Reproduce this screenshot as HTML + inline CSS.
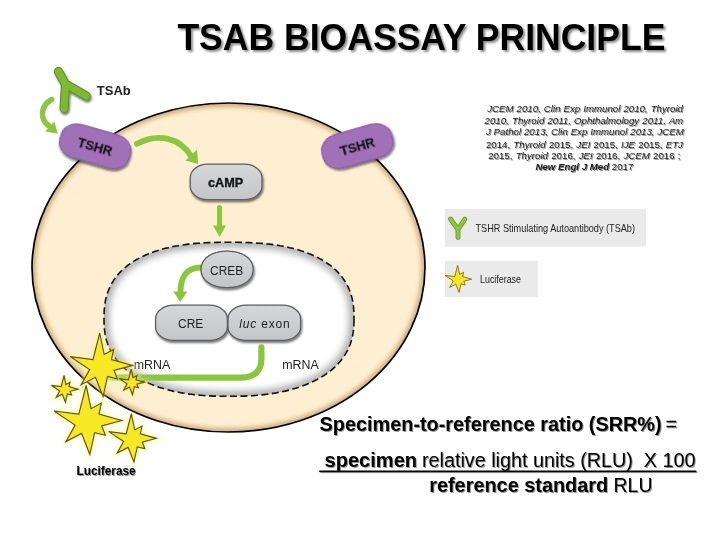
<!DOCTYPE html>
<html><head><meta charset="utf-8"><title>TSAB Bioassay Principle</title>
<style>
html,body{margin:0;padding:0;background:#fff;}
body{width:714px;height:535px;overflow:hidden;position:relative;font-family:"Liberation Sans",Arial,sans-serif;}
svg{position:absolute;left:0;top:0;}
text{font-family:"Liberation Sans",Arial,sans-serif;}
</style></head><body>
<svg width="714" height="535" viewBox="0 0 714 535">
<defs>
  <radialGradient id="cellg" cx="50%" cy="50%" r="50%">
    <stop offset="0" stop-color="#FEEFD2"/><stop offset="0.9" stop-color="#FDEBCB"/><stop offset="1" stop-color="#E9D5B0"/>
  </radialGradient>
  <radialGradient id="nucg" cx="50%" cy="50%" r="50%">
    <stop offset="0" stop-color="#fff"/><stop offset="0.82" stop-color="#fff"/><stop offset="1" stop-color="#cfcfcf"/>
  </radialGradient>
  <filter id="sh" x="-20%" y="-20%" width="150%" height="150%"><feGaussianBlur in="SourceAlpha" stdDeviation="1.2"/><feOffset dx="1" dy="1.5"/><feComponentTransfer><feFuncA type="linear" slope="0.55"/></feComponentTransfer><feMerge><feMergeNode/><feMergeNode in="SourceGraphic"/></feMerge></filter>
  <filter id="tsh" x="-5%" y="-20%" width="110%" height="150%"><feGaussianBlur in="SourceAlpha" stdDeviation="0.8"/><feOffset dx="1.5" dy="1.5"/><feComponentTransfer><feFuncA type="linear" slope="0.6"/></feComponentTransfer><feMerge><feMergeNode/><feMergeNode in="SourceGraphic"/></feMerge></filter>
  <filter id="glow" x="-30%" y="-30%" width="160%" height="160%"><feGaussianBlur in="SourceGraphic" stdDeviation="3" result="b"/><feMerge><feMergeNode in="b"/><feMergeNode in="SourceGraphic"/></feMerge></filter>
  <linearGradient id="fade" gradientUnits="userSpaceOnUse" x1="100" x2="170" y1="0" y2="0"><stop offset="0" stop-color="#8CC63F" stop-opacity="0"/><stop offset="0.25" stop-color="#8CC63F"/><stop offset="1" stop-color="#8CC63F"/></linearGradient>
  <path id="star" d="M-1.8,-32.9 L2.7,-11.5 L12.2,-16.6 L10,-6.5 L31,-0.6 L12.5,4.4 L15.9,12.9 L6,10.5 L1.6,30.5 L-6,11.2 L-20.3,18.7 L-11.9,3.6 L-31.3,-9.4 L-8.5,-6.5 Z" vector-effect="non-scaling-stroke"/>
  <clipPath id="nucclip"><path d="M354.0,319.3 L354.0,321.8 L353.9,323.7 L353.9,325.6 L353.7,327.3 L353.6,329.0 L353.4,330.6 L353.2,332.1 L353.0,333.7 L352.7,335.2 L352.4,336.7 L352.0,338.1 L351.7,339.5 L351.3,340.9 L350.8,342.3 L350.4,343.7 L349.9,345.0 L349.3,346.3 L348.8,347.6 L348.2,348.9 L347.6,350.2 L346.9,351.5 L346.2,352.7 L345.5,353.9 L344.7,355.1 L344.0,356.3 L343.1,357.5 L342.3,358.6 L341.4,359.8 L340.5,360.9 L339.6,362.0 L338.6,363.1 L337.6,364.2 L336.6,365.2 L335.6,366.3 L334.5,367.3 L333.4,368.3 L332.2,369.3 L331.1,370.3 L329.9,371.2 L328.6,372.2 L327.4,373.1 L326.1,374.0 L324.8,374.9 L323.4,375.8 L322.1,376.6 L320.7,377.5 L319.3,378.3 L317.8,379.1 L316.3,379.9 L314.8,380.7 L313.3,381.4 L311.7,382.2 L310.1,382.9 L308.5,383.6 L306.9,384.3 L305.2,384.9 L303.5,385.6 L301.8,386.2 L300.1,386.8 L298.3,387.4 L296.5,388.0 L294.7,388.6 L292.8,389.1 L291.0,389.6 L289.1,390.1 L287.1,390.6 L285.2,391.1 L283.2,391.5 L281.2,391.9 L279.2,392.3 L277.1,392.7 L275.0,393.1 L272.9,393.4 L270.7,393.8 L268.6,394.1 L266.4,394.3 L264.1,394.6 L261.8,394.9 L259.5,395.1 L257.2,395.3 L254.8,395.5 L252.3,395.7 L249.8,395.8 L247.3,395.9 L244.7,396.1 L242.0,396.1 L239.2,396.2 L236.2,396.3 L233.0,396.3 L229.0,396.3 L225.0,396.3 L221.8,396.3 L218.8,396.2 L216.0,396.1 L213.3,396.1 L210.7,395.9 L208.2,395.8 L205.7,395.7 L203.2,395.5 L200.8,395.3 L198.5,395.1 L196.2,394.9 L193.9,394.6 L191.6,394.3 L189.4,394.1 L187.3,393.8 L185.1,393.4 L183.0,393.1 L180.9,392.7 L178.8,392.3 L176.8,391.9 L174.8,391.5 L172.8,391.1 L170.9,390.6 L168.9,390.1 L167.0,389.6 L165.2,389.1 L163.3,388.6 L161.5,388.0 L159.7,387.4 L157.9,386.8 L156.2,386.2 L154.5,385.6 L152.8,384.9 L151.1,384.3 L149.5,383.6 L147.9,382.9 L146.3,382.2 L144.7,381.4 L143.2,380.7 L141.7,379.9 L140.2,379.1 L138.7,378.3 L137.3,377.5 L135.9,376.6 L134.6,375.8 L133.2,374.9 L131.9,374.0 L130.6,373.1 L129.4,372.2 L128.1,371.2 L126.9,370.3 L125.8,369.3 L124.6,368.3 L123.5,367.3 L122.4,366.3 L121.4,365.2 L120.4,364.2 L119.4,363.1 L118.4,362.0 L117.5,360.9 L116.6,359.8 L115.7,358.6 L114.9,357.5 L114.0,356.3 L113.3,355.1 L112.5,353.9 L111.8,352.7 L111.1,351.5 L110.4,350.2 L109.8,348.9 L109.2,347.6 L108.7,346.3 L108.1,345.0 L107.6,343.7 L107.2,342.3 L106.7,340.9 L106.3,339.5 L106.0,338.1 L105.6,336.7 L105.3,335.2 L105.0,333.7 L104.8,332.1 L104.6,330.6 L104.4,329.0 L104.3,327.3 L104.1,325.6 L104.1,323.7 L104.0,321.8 L104.0,319.3 L104.0,316.3 L104.1,314.0 L104.1,312.0 L104.2,310.2 L104.4,308.4 L104.5,306.7 L104.7,305.0 L105.0,303.4 L105.2,301.8 L105.5,300.3 L105.8,298.8 L106.2,297.4 L106.6,296.0 L107.0,294.6 L107.4,293.2 L107.9,291.8 L108.4,290.5 L108.9,289.2 L109.5,287.9 L110.1,286.7 L110.7,285.4 L111.3,284.2 L112.0,283.0 L112.7,281.8 L113.5,280.6 L114.2,279.5 L115.0,278.4 L115.8,277.2 L116.7,276.2 L117.6,275.1 L118.5,274.0 L119.4,273.0 L120.4,271.9 L121.4,270.9 L122.4,269.9 L123.5,269.0 L124.6,268.0 L125.7,267.1 L126.8,266.1 L128.0,265.2 L129.2,264.3 L130.4,263.5 L131.7,262.6 L133.0,261.8 L134.3,260.9 L135.6,260.1 L137.0,259.3 L138.4,258.6 L139.8,257.8 L141.2,257.1 L142.7,256.4 L144.2,255.7 L145.7,255.0 L147.3,254.3 L148.9,253.7 L150.5,253.0 L152.1,252.4 L153.8,251.8 L155.5,251.2 L157.2,250.7 L159.0,250.1 L160.7,249.6 L162.5,249.1 L164.4,248.6 L166.2,248.1 L168.1,247.7 L170.1,247.2 L172.0,246.8 L174.0,246.4 L176.0,246.0 L178.1,245.7 L180.1,245.3 L182.3,245.0 L184.4,244.7 L186.6,244.4 L188.8,244.1 L191.1,243.9 L193.4,243.6 L195.8,243.4 L198.2,243.2 L200.7,243.1 L203.2,242.9 L205.8,242.8 L208.5,242.6 L211.3,242.5 L214.1,242.5 L217.2,242.4 L220.5,242.3 L224.1,242.3 L229.0,242.3 L233.9,242.3 L237.5,242.3 L240.8,242.4 L243.9,242.5 L246.7,242.5 L249.5,242.6 L252.2,242.8 L254.8,242.9 L257.3,243.1 L259.8,243.2 L262.2,243.4 L264.6,243.6 L266.9,243.9 L269.2,244.1 L271.4,244.4 L273.6,244.7 L275.7,245.0 L277.9,245.3 L279.9,245.7 L282.0,246.0 L284.0,246.4 L286.0,246.8 L287.9,247.2 L289.9,247.7 L291.8,248.1 L293.6,248.6 L295.5,249.1 L297.3,249.6 L299.0,250.1 L300.8,250.7 L302.5,251.2 L304.2,251.8 L305.9,252.4 L307.5,253.0 L309.1,253.7 L310.7,254.3 L312.3,255.0 L313.8,255.7 L315.3,256.4 L316.8,257.1 L318.2,257.8 L319.6,258.6 L321.0,259.3 L322.4,260.1 L323.7,260.9 L325.0,261.8 L326.3,262.6 L327.6,263.5 L328.8,264.3 L330.0,265.2 L331.2,266.1 L332.3,267.1 L333.4,268.0 L334.5,269.0 L335.6,269.9 L336.6,270.9 L337.6,271.9 L338.6,273.0 L339.5,274.0 L340.4,275.1 L341.3,276.2 L342.2,277.2 L343.0,278.4 L343.8,279.5 L344.5,280.6 L345.3,281.8 L346.0,283.0 L346.7,284.2 L347.3,285.4 L347.9,286.7 L348.5,287.9 L349.1,289.2 L349.6,290.5 L350.1,291.8 L350.6,293.2 L351.0,294.6 L351.4,296.0 L351.8,297.4 L352.2,298.8 L352.5,300.3 L352.8,301.8 L353.0,303.4 L353.3,305.0 L353.5,306.7 L353.6,308.4 L353.8,310.2 L353.9,312.0 L353.9,314.0 L354.0,316.3 Z"/></clipPath>
  <filter id="blur4" x="-10%" y="-10%" width="120%" height="120%"><feGaussianBlur stdDeviation="3.5"/></filter>
  <linearGradient id="boxg" x1="0" x2="0" y1="0" y2="1"><stop offset="0" stop-color="#D6D7D9"/><stop offset="1" stop-color="#C4C5C7"/></linearGradient>
  <filter id="blur3" x="-30%" y="-30%" width="160%" height="160%"><feGaussianBlur stdDeviation="2.5"/></filter>
  <filter id="csh" x="-5%" y="-20%" width="110%" height="150%"><feGaussianBlur in="SourceAlpha" stdDeviation="0.5"/><feOffset dx="0.8" dy="0.8"/><feComponentTransfer><feFuncA type="linear" slope="0.45"/></feComponentTransfer><feMerge><feMergeNode/><feMergeNode in="SourceGraphic"/></feMerge></filter>
  <filter id="fsh" x="-5%" y="-20%" width="110%" height="150%"><feGaussianBlur in="SourceAlpha" stdDeviation="0.6"/><feOffset dx="1.3" dy="1.3"/><feComponentTransfer><feFuncA type="linear" slope="0.42"/></feComponentTransfer><feMerge><feMergeNode/><feMergeNode in="SourceGraphic"/></feMerge></filter>
  <filter id="tish" x="-5%" y="-20%" width="110%" height="150%"><feGaussianBlur in="SourceAlpha" stdDeviation="0.9"/><feOffset dx="1.6" dy="1.6"/><feComponentTransfer><feFuncA type="linear" slope="0.45"/></feComponentTransfer><feMerge><feMergeNode/><feMergeNode in="SourceGraphic"/></feMerge></filter>
  <clipPath id="cellclip"><ellipse cx="228.5" cy="267.5" rx="196.5" ry="164.5"/></clipPath>
  <filter id="lsh" x="-5%" y="-20%" width="110%" height="150%"><feGaussianBlur in="SourceAlpha" stdDeviation="0.6"/><feOffset dx="1" dy="1"/><feComponentTransfer><feFuncA type="linear" slope="0.45"/></feComponentTransfer><feMerge><feMergeNode/><feMergeNode in="SourceGraphic"/></feMerge></filter>
  <filter id="noop" x="-10%" y="-30%" width="120%" height="160%"><feOffset dx="0" dy="0"/></filter>
</defs>

<!-- cell -->
<ellipse cx="228.5" cy="267.5" rx="196.5" ry="164.5" fill="#FFEFD2"/>
<g clip-path="url(#cellclip)"><ellipse cx="228.5" cy="267.5" rx="196.5" ry="164.5" fill="none" stroke="#c9a877" stroke-width="7" filter="url(#blur3)"/></g>
<ellipse cx="228.5" cy="267.5" rx="196.5" ry="164.5" fill="none" stroke="#000" stroke-width="1.7"/>
<!-- nucleus -->
<path d="M354.0,319.3 L354.0,321.8 L353.9,323.7 L353.9,325.6 L353.7,327.3 L353.6,329.0 L353.4,330.6 L353.2,332.1 L353.0,333.7 L352.7,335.2 L352.4,336.7 L352.0,338.1 L351.7,339.5 L351.3,340.9 L350.8,342.3 L350.4,343.7 L349.9,345.0 L349.3,346.3 L348.8,347.6 L348.2,348.9 L347.6,350.2 L346.9,351.5 L346.2,352.7 L345.5,353.9 L344.7,355.1 L344.0,356.3 L343.1,357.5 L342.3,358.6 L341.4,359.8 L340.5,360.9 L339.6,362.0 L338.6,363.1 L337.6,364.2 L336.6,365.2 L335.6,366.3 L334.5,367.3 L333.4,368.3 L332.2,369.3 L331.1,370.3 L329.9,371.2 L328.6,372.2 L327.4,373.1 L326.1,374.0 L324.8,374.9 L323.4,375.8 L322.1,376.6 L320.7,377.5 L319.3,378.3 L317.8,379.1 L316.3,379.9 L314.8,380.7 L313.3,381.4 L311.7,382.2 L310.1,382.9 L308.5,383.6 L306.9,384.3 L305.2,384.9 L303.5,385.6 L301.8,386.2 L300.1,386.8 L298.3,387.4 L296.5,388.0 L294.7,388.6 L292.8,389.1 L291.0,389.6 L289.1,390.1 L287.1,390.6 L285.2,391.1 L283.2,391.5 L281.2,391.9 L279.2,392.3 L277.1,392.7 L275.0,393.1 L272.9,393.4 L270.7,393.8 L268.6,394.1 L266.4,394.3 L264.1,394.6 L261.8,394.9 L259.5,395.1 L257.2,395.3 L254.8,395.5 L252.3,395.7 L249.8,395.8 L247.3,395.9 L244.7,396.1 L242.0,396.1 L239.2,396.2 L236.2,396.3 L233.0,396.3 L229.0,396.3 L225.0,396.3 L221.8,396.3 L218.8,396.2 L216.0,396.1 L213.3,396.1 L210.7,395.9 L208.2,395.8 L205.7,395.7 L203.2,395.5 L200.8,395.3 L198.5,395.1 L196.2,394.9 L193.9,394.6 L191.6,394.3 L189.4,394.1 L187.3,393.8 L185.1,393.4 L183.0,393.1 L180.9,392.7 L178.8,392.3 L176.8,391.9 L174.8,391.5 L172.8,391.1 L170.9,390.6 L168.9,390.1 L167.0,389.6 L165.2,389.1 L163.3,388.6 L161.5,388.0 L159.7,387.4 L157.9,386.8 L156.2,386.2 L154.5,385.6 L152.8,384.9 L151.1,384.3 L149.5,383.6 L147.9,382.9 L146.3,382.2 L144.7,381.4 L143.2,380.7 L141.7,379.9 L140.2,379.1 L138.7,378.3 L137.3,377.5 L135.9,376.6 L134.6,375.8 L133.2,374.9 L131.9,374.0 L130.6,373.1 L129.4,372.2 L128.1,371.2 L126.9,370.3 L125.8,369.3 L124.6,368.3 L123.5,367.3 L122.4,366.3 L121.4,365.2 L120.4,364.2 L119.4,363.1 L118.4,362.0 L117.5,360.9 L116.6,359.8 L115.7,358.6 L114.9,357.5 L114.0,356.3 L113.3,355.1 L112.5,353.9 L111.8,352.7 L111.1,351.5 L110.4,350.2 L109.8,348.9 L109.2,347.6 L108.7,346.3 L108.1,345.0 L107.6,343.7 L107.2,342.3 L106.7,340.9 L106.3,339.5 L106.0,338.1 L105.6,336.7 L105.3,335.2 L105.0,333.7 L104.8,332.1 L104.6,330.6 L104.4,329.0 L104.3,327.3 L104.1,325.6 L104.1,323.7 L104.0,321.8 L104.0,319.3 L104.0,316.3 L104.1,314.0 L104.1,312.0 L104.2,310.2 L104.4,308.4 L104.5,306.7 L104.7,305.0 L105.0,303.4 L105.2,301.8 L105.5,300.3 L105.8,298.8 L106.2,297.4 L106.6,296.0 L107.0,294.6 L107.4,293.2 L107.9,291.8 L108.4,290.5 L108.9,289.2 L109.5,287.9 L110.1,286.7 L110.7,285.4 L111.3,284.2 L112.0,283.0 L112.7,281.8 L113.5,280.6 L114.2,279.5 L115.0,278.4 L115.8,277.2 L116.7,276.2 L117.6,275.1 L118.5,274.0 L119.4,273.0 L120.4,271.9 L121.4,270.9 L122.4,269.9 L123.5,269.0 L124.6,268.0 L125.7,267.1 L126.8,266.1 L128.0,265.2 L129.2,264.3 L130.4,263.5 L131.7,262.6 L133.0,261.8 L134.3,260.9 L135.6,260.1 L137.0,259.3 L138.4,258.6 L139.8,257.8 L141.2,257.1 L142.7,256.4 L144.2,255.7 L145.7,255.0 L147.3,254.3 L148.9,253.7 L150.5,253.0 L152.1,252.4 L153.8,251.8 L155.5,251.2 L157.2,250.7 L159.0,250.1 L160.7,249.6 L162.5,249.1 L164.4,248.6 L166.2,248.1 L168.1,247.7 L170.1,247.2 L172.0,246.8 L174.0,246.4 L176.0,246.0 L178.1,245.7 L180.1,245.3 L182.3,245.0 L184.4,244.7 L186.6,244.4 L188.8,244.1 L191.1,243.9 L193.4,243.6 L195.8,243.4 L198.2,243.2 L200.7,243.1 L203.2,242.9 L205.8,242.8 L208.5,242.6 L211.3,242.5 L214.1,242.5 L217.2,242.4 L220.5,242.3 L224.1,242.3 L229.0,242.3 L233.9,242.3 L237.5,242.3 L240.8,242.4 L243.9,242.5 L246.7,242.5 L249.5,242.6 L252.2,242.8 L254.8,242.9 L257.3,243.1 L259.8,243.2 L262.2,243.4 L264.6,243.6 L266.9,243.9 L269.2,244.1 L271.4,244.4 L273.6,244.7 L275.7,245.0 L277.9,245.3 L279.9,245.7 L282.0,246.0 L284.0,246.4 L286.0,246.8 L287.9,247.2 L289.9,247.7 L291.8,248.1 L293.6,248.6 L295.5,249.1 L297.3,249.6 L299.0,250.1 L300.8,250.7 L302.5,251.2 L304.2,251.8 L305.9,252.4 L307.5,253.0 L309.1,253.7 L310.7,254.3 L312.3,255.0 L313.8,255.7 L315.3,256.4 L316.8,257.1 L318.2,257.8 L319.6,258.6 L321.0,259.3 L322.4,260.1 L323.7,260.9 L325.0,261.8 L326.3,262.6 L327.6,263.5 L328.8,264.3 L330.0,265.2 L331.2,266.1 L332.3,267.1 L333.4,268.0 L334.5,269.0 L335.6,269.9 L336.6,270.9 L337.6,271.9 L338.6,273.0 L339.5,274.0 L340.4,275.1 L341.3,276.2 L342.2,277.2 L343.0,278.4 L343.8,279.5 L344.5,280.6 L345.3,281.8 L346.0,283.0 L346.7,284.2 L347.3,285.4 L347.9,286.7 L348.5,287.9 L349.1,289.2 L349.6,290.5 L350.1,291.8 L350.6,293.2 L351.0,294.6 L351.4,296.0 L351.8,297.4 L352.2,298.8 L352.5,300.3 L352.8,301.8 L353.0,303.4 L353.3,305.0 L353.5,306.7 L353.6,308.4 L353.8,310.2 L353.9,312.0 L353.9,314.0 L354.0,316.3 Z" fill="#fff"/>
<g clip-path="url(#nucclip)"><path d="M354.0,319.3 L354.0,321.8 L353.9,323.7 L353.9,325.6 L353.7,327.3 L353.6,329.0 L353.4,330.6 L353.2,332.1 L353.0,333.7 L352.7,335.2 L352.4,336.7 L352.0,338.1 L351.7,339.5 L351.3,340.9 L350.8,342.3 L350.4,343.7 L349.9,345.0 L349.3,346.3 L348.8,347.6 L348.2,348.9 L347.6,350.2 L346.9,351.5 L346.2,352.7 L345.5,353.9 L344.7,355.1 L344.0,356.3 L343.1,357.5 L342.3,358.6 L341.4,359.8 L340.5,360.9 L339.6,362.0 L338.6,363.1 L337.6,364.2 L336.6,365.2 L335.6,366.3 L334.5,367.3 L333.4,368.3 L332.2,369.3 L331.1,370.3 L329.9,371.2 L328.6,372.2 L327.4,373.1 L326.1,374.0 L324.8,374.9 L323.4,375.8 L322.1,376.6 L320.7,377.5 L319.3,378.3 L317.8,379.1 L316.3,379.9 L314.8,380.7 L313.3,381.4 L311.7,382.2 L310.1,382.9 L308.5,383.6 L306.9,384.3 L305.2,384.9 L303.5,385.6 L301.8,386.2 L300.1,386.8 L298.3,387.4 L296.5,388.0 L294.7,388.6 L292.8,389.1 L291.0,389.6 L289.1,390.1 L287.1,390.6 L285.2,391.1 L283.2,391.5 L281.2,391.9 L279.2,392.3 L277.1,392.7 L275.0,393.1 L272.9,393.4 L270.7,393.8 L268.6,394.1 L266.4,394.3 L264.1,394.6 L261.8,394.9 L259.5,395.1 L257.2,395.3 L254.8,395.5 L252.3,395.7 L249.8,395.8 L247.3,395.9 L244.7,396.1 L242.0,396.1 L239.2,396.2 L236.2,396.3 L233.0,396.3 L229.0,396.3 L225.0,396.3 L221.8,396.3 L218.8,396.2 L216.0,396.1 L213.3,396.1 L210.7,395.9 L208.2,395.8 L205.7,395.7 L203.2,395.5 L200.8,395.3 L198.5,395.1 L196.2,394.9 L193.9,394.6 L191.6,394.3 L189.4,394.1 L187.3,393.8 L185.1,393.4 L183.0,393.1 L180.9,392.7 L178.8,392.3 L176.8,391.9 L174.8,391.5 L172.8,391.1 L170.9,390.6 L168.9,390.1 L167.0,389.6 L165.2,389.1 L163.3,388.6 L161.5,388.0 L159.7,387.4 L157.9,386.8 L156.2,386.2 L154.5,385.6 L152.8,384.9 L151.1,384.3 L149.5,383.6 L147.9,382.9 L146.3,382.2 L144.7,381.4 L143.2,380.7 L141.7,379.9 L140.2,379.1 L138.7,378.3 L137.3,377.5 L135.9,376.6 L134.6,375.8 L133.2,374.9 L131.9,374.0 L130.6,373.1 L129.4,372.2 L128.1,371.2 L126.9,370.3 L125.8,369.3 L124.6,368.3 L123.5,367.3 L122.4,366.3 L121.4,365.2 L120.4,364.2 L119.4,363.1 L118.4,362.0 L117.5,360.9 L116.6,359.8 L115.7,358.6 L114.9,357.5 L114.0,356.3 L113.3,355.1 L112.5,353.9 L111.8,352.7 L111.1,351.5 L110.4,350.2 L109.8,348.9 L109.2,347.6 L108.7,346.3 L108.1,345.0 L107.6,343.7 L107.2,342.3 L106.7,340.9 L106.3,339.5 L106.0,338.1 L105.6,336.7 L105.3,335.2 L105.0,333.7 L104.8,332.1 L104.6,330.6 L104.4,329.0 L104.3,327.3 L104.1,325.6 L104.1,323.7 L104.0,321.8 L104.0,319.3 L104.0,316.3 L104.1,314.0 L104.1,312.0 L104.2,310.2 L104.4,308.4 L104.5,306.7 L104.7,305.0 L105.0,303.4 L105.2,301.8 L105.5,300.3 L105.8,298.8 L106.2,297.4 L106.6,296.0 L107.0,294.6 L107.4,293.2 L107.9,291.8 L108.4,290.5 L108.9,289.2 L109.5,287.9 L110.1,286.7 L110.7,285.4 L111.3,284.2 L112.0,283.0 L112.7,281.8 L113.5,280.6 L114.2,279.5 L115.0,278.4 L115.8,277.2 L116.7,276.2 L117.6,275.1 L118.5,274.0 L119.4,273.0 L120.4,271.9 L121.4,270.9 L122.4,269.9 L123.5,269.0 L124.6,268.0 L125.7,267.1 L126.8,266.1 L128.0,265.2 L129.2,264.3 L130.4,263.5 L131.7,262.6 L133.0,261.8 L134.3,260.9 L135.6,260.1 L137.0,259.3 L138.4,258.6 L139.8,257.8 L141.2,257.1 L142.7,256.4 L144.2,255.7 L145.7,255.0 L147.3,254.3 L148.9,253.7 L150.5,253.0 L152.1,252.4 L153.8,251.8 L155.5,251.2 L157.2,250.7 L159.0,250.1 L160.7,249.6 L162.5,249.1 L164.4,248.6 L166.2,248.1 L168.1,247.7 L170.1,247.2 L172.0,246.8 L174.0,246.4 L176.0,246.0 L178.1,245.7 L180.1,245.3 L182.3,245.0 L184.4,244.7 L186.6,244.4 L188.8,244.1 L191.1,243.9 L193.4,243.6 L195.8,243.4 L198.2,243.2 L200.7,243.1 L203.2,242.9 L205.8,242.8 L208.5,242.6 L211.3,242.5 L214.1,242.5 L217.2,242.4 L220.5,242.3 L224.1,242.3 L229.0,242.3 L233.9,242.3 L237.5,242.3 L240.8,242.4 L243.9,242.5 L246.7,242.5 L249.5,242.6 L252.2,242.8 L254.8,242.9 L257.3,243.1 L259.8,243.2 L262.2,243.4 L264.6,243.6 L266.9,243.9 L269.2,244.1 L271.4,244.4 L273.6,244.7 L275.7,245.0 L277.9,245.3 L279.9,245.7 L282.0,246.0 L284.0,246.4 L286.0,246.8 L287.9,247.2 L289.9,247.7 L291.8,248.1 L293.6,248.6 L295.5,249.1 L297.3,249.6 L299.0,250.1 L300.8,250.7 L302.5,251.2 L304.2,251.8 L305.9,252.4 L307.5,253.0 L309.1,253.7 L310.7,254.3 L312.3,255.0 L313.8,255.7 L315.3,256.4 L316.8,257.1 L318.2,257.8 L319.6,258.6 L321.0,259.3 L322.4,260.1 L323.7,260.9 L325.0,261.8 L326.3,262.6 L327.6,263.5 L328.8,264.3 L330.0,265.2 L331.2,266.1 L332.3,267.1 L333.4,268.0 L334.5,269.0 L335.6,269.9 L336.6,270.9 L337.6,271.9 L338.6,273.0 L339.5,274.0 L340.4,275.1 L341.3,276.2 L342.2,277.2 L343.0,278.4 L343.8,279.5 L344.5,280.6 L345.3,281.8 L346.0,283.0 L346.7,284.2 L347.3,285.4 L347.9,286.7 L348.5,287.9 L349.1,289.2 L349.6,290.5 L350.1,291.8 L350.6,293.2 L351.0,294.6 L351.4,296.0 L351.8,297.4 L352.2,298.8 L352.5,300.3 L352.8,301.8 L353.0,303.4 L353.3,305.0 L353.5,306.7 L353.6,308.4 L353.8,310.2 L353.9,312.0 L353.9,314.0 L354.0,316.3 Z" fill="none" stroke="#adadad" stroke-width="10" filter="url(#blur4)"/></g>
<path d="M354.0,319.3 L354.0,321.8 L353.9,323.7 L353.9,325.6 L353.7,327.3 L353.6,329.0 L353.4,330.6 L353.2,332.1 L353.0,333.7 L352.7,335.2 L352.4,336.7 L352.0,338.1 L351.7,339.5 L351.3,340.9 L350.8,342.3 L350.4,343.7 L349.9,345.0 L349.3,346.3 L348.8,347.6 L348.2,348.9 L347.6,350.2 L346.9,351.5 L346.2,352.7 L345.5,353.9 L344.7,355.1 L344.0,356.3 L343.1,357.5 L342.3,358.6 L341.4,359.8 L340.5,360.9 L339.6,362.0 L338.6,363.1 L337.6,364.2 L336.6,365.2 L335.6,366.3 L334.5,367.3 L333.4,368.3 L332.2,369.3 L331.1,370.3 L329.9,371.2 L328.6,372.2 L327.4,373.1 L326.1,374.0 L324.8,374.9 L323.4,375.8 L322.1,376.6 L320.7,377.5 L319.3,378.3 L317.8,379.1 L316.3,379.9 L314.8,380.7 L313.3,381.4 L311.7,382.2 L310.1,382.9 L308.5,383.6 L306.9,384.3 L305.2,384.9 L303.5,385.6 L301.8,386.2 L300.1,386.8 L298.3,387.4 L296.5,388.0 L294.7,388.6 L292.8,389.1 L291.0,389.6 L289.1,390.1 L287.1,390.6 L285.2,391.1 L283.2,391.5 L281.2,391.9 L279.2,392.3 L277.1,392.7 L275.0,393.1 L272.9,393.4 L270.7,393.8 L268.6,394.1 L266.4,394.3 L264.1,394.6 L261.8,394.9 L259.5,395.1 L257.2,395.3 L254.8,395.5 L252.3,395.7 L249.8,395.8 L247.3,395.9 L244.7,396.1 L242.0,396.1 L239.2,396.2 L236.2,396.3 L233.0,396.3 L229.0,396.3 L225.0,396.3 L221.8,396.3 L218.8,396.2 L216.0,396.1 L213.3,396.1 L210.7,395.9 L208.2,395.8 L205.7,395.7 L203.2,395.5 L200.8,395.3 L198.5,395.1 L196.2,394.9 L193.9,394.6 L191.6,394.3 L189.4,394.1 L187.3,393.8 L185.1,393.4 L183.0,393.1 L180.9,392.7 L178.8,392.3 L176.8,391.9 L174.8,391.5 L172.8,391.1 L170.9,390.6 L168.9,390.1 L167.0,389.6 L165.2,389.1 L163.3,388.6 L161.5,388.0 L159.7,387.4 L157.9,386.8 L156.2,386.2 L154.5,385.6 L152.8,384.9 L151.1,384.3 L149.5,383.6 L147.9,382.9 L146.3,382.2 L144.7,381.4 L143.2,380.7 L141.7,379.9 L140.2,379.1 L138.7,378.3 L137.3,377.5 L135.9,376.6 L134.6,375.8 L133.2,374.9 L131.9,374.0 L130.6,373.1 L129.4,372.2 L128.1,371.2 L126.9,370.3 L125.8,369.3 L124.6,368.3 L123.5,367.3 L122.4,366.3 L121.4,365.2 L120.4,364.2 L119.4,363.1 L118.4,362.0 L117.5,360.9 L116.6,359.8 L115.7,358.6 L114.9,357.5 L114.0,356.3 L113.3,355.1 L112.5,353.9 L111.8,352.7 L111.1,351.5 L110.4,350.2 L109.8,348.9 L109.2,347.6 L108.7,346.3 L108.1,345.0 L107.6,343.7 L107.2,342.3 L106.7,340.9 L106.3,339.5 L106.0,338.1 L105.6,336.7 L105.3,335.2 L105.0,333.7 L104.8,332.1 L104.6,330.6 L104.4,329.0 L104.3,327.3 L104.1,325.6 L104.1,323.7 L104.0,321.8 L104.0,319.3 L104.0,316.3 L104.1,314.0 L104.1,312.0 L104.2,310.2 L104.4,308.4 L104.5,306.7 L104.7,305.0 L105.0,303.4 L105.2,301.8 L105.5,300.3 L105.8,298.8 L106.2,297.4 L106.6,296.0 L107.0,294.6 L107.4,293.2 L107.9,291.8 L108.4,290.5 L108.9,289.2 L109.5,287.9 L110.1,286.7 L110.7,285.4 L111.3,284.2 L112.0,283.0 L112.7,281.8 L113.5,280.6 L114.2,279.5 L115.0,278.4 L115.8,277.2 L116.7,276.2 L117.6,275.1 L118.5,274.0 L119.4,273.0 L120.4,271.9 L121.4,270.9 L122.4,269.9 L123.5,269.0 L124.6,268.0 L125.7,267.1 L126.8,266.1 L128.0,265.2 L129.2,264.3 L130.4,263.5 L131.7,262.6 L133.0,261.8 L134.3,260.9 L135.6,260.1 L137.0,259.3 L138.4,258.6 L139.8,257.8 L141.2,257.1 L142.7,256.4 L144.2,255.7 L145.7,255.0 L147.3,254.3 L148.9,253.7 L150.5,253.0 L152.1,252.4 L153.8,251.8 L155.5,251.2 L157.2,250.7 L159.0,250.1 L160.7,249.6 L162.5,249.1 L164.4,248.6 L166.2,248.1 L168.1,247.7 L170.1,247.2 L172.0,246.8 L174.0,246.4 L176.0,246.0 L178.1,245.7 L180.1,245.3 L182.3,245.0 L184.4,244.7 L186.6,244.4 L188.8,244.1 L191.1,243.9 L193.4,243.6 L195.8,243.4 L198.2,243.2 L200.7,243.1 L203.2,242.9 L205.8,242.8 L208.5,242.6 L211.3,242.5 L214.1,242.5 L217.2,242.4 L220.5,242.3 L224.1,242.3 L229.0,242.3 L233.9,242.3 L237.5,242.3 L240.8,242.4 L243.9,242.5 L246.7,242.5 L249.5,242.6 L252.2,242.8 L254.8,242.9 L257.3,243.1 L259.8,243.2 L262.2,243.4 L264.6,243.6 L266.9,243.9 L269.2,244.1 L271.4,244.4 L273.6,244.7 L275.7,245.0 L277.9,245.3 L279.9,245.7 L282.0,246.0 L284.0,246.4 L286.0,246.8 L287.9,247.2 L289.9,247.7 L291.8,248.1 L293.6,248.6 L295.5,249.1 L297.3,249.6 L299.0,250.1 L300.8,250.7 L302.5,251.2 L304.2,251.8 L305.9,252.4 L307.5,253.0 L309.1,253.7 L310.7,254.3 L312.3,255.0 L313.8,255.7 L315.3,256.4 L316.8,257.1 L318.2,257.8 L319.6,258.6 L321.0,259.3 L322.4,260.1 L323.7,260.9 L325.0,261.8 L326.3,262.6 L327.6,263.5 L328.8,264.3 L330.0,265.2 L331.2,266.1 L332.3,267.1 L333.4,268.0 L334.5,269.0 L335.6,269.9 L336.6,270.9 L337.6,271.9 L338.6,273.0 L339.5,274.0 L340.4,275.1 L341.3,276.2 L342.2,277.2 L343.0,278.4 L343.8,279.5 L344.5,280.6 L345.3,281.8 L346.0,283.0 L346.7,284.2 L347.3,285.4 L347.9,286.7 L348.5,287.9 L349.1,289.2 L349.6,290.5 L350.1,291.8 L350.6,293.2 L351.0,294.6 L351.4,296.0 L351.8,297.4 L352.2,298.8 L352.5,300.3 L352.8,301.8 L353.0,303.4 L353.3,305.0 L353.5,306.7 L353.6,308.4 L353.8,310.2 L353.9,312.0 L353.9,314.0 L354.0,316.3 Z" fill="none" stroke="#111" stroke-width="1.6" stroke-dasharray="7 3.5"/>

<!-- TSAb antibody -->
<g stroke-linecap="round" fill="none" filter="url(#sh)">
  <g stroke="#5F8C27" stroke-width="9.2"><path d="M65.5,84 L58.4,71.4 M65.5,84 L86.3,96 M65.5,84 L64.1,108.4"/></g>
  <g stroke="#7FB832" stroke-width="7.2"><path d="M65.5,84 L58.4,71.4 M65.5,84 L86.3,96 M65.5,84 L64.1,108.4"/></g>
</g>
<text x="96.8" y="95" filter="url(#noop)" font-size="13" font-weight="bold" fill="#222" textLength="34">TSAb</text>

<!-- arrows -->
<g fill="none" stroke="#8CC63F" stroke-width="5.5" stroke-linecap="round">
  <path d="M51.7,99.5 C41.5,105 38.5,118 49,126"/>
  <path d="M137,143.8 C158,132.5 180,138 191,156" stroke-width="5.8"/>
  <path d="M219.5,207.5 L219.5,226" stroke-width="5"/>
  <path d="M200.4,267.4 C186,268 181,277 180.4,291" stroke-width="6"/>
  <path d="M261.4,347.3 L261.4,359 C261.4,371 254,377.7 241,377.7 L170,377.7" stroke-width="6.2"/>
</g>
<path d="M171,377.7 L100,377.7" stroke="url(#fade)" stroke-width="6.2" fill="none"/>
<g fill="#8CC63F">
  <path d="M57.7,133.8 L45.3,131.4 L54.4,121.6 Z"/>
  <path d="M198.2,164 L185.5,160.5 L197,149.5 Z"/>
  <path d="M219.5,237 L213,225.6 L226,225.6 Z"/>
  <path d="M180.3,302 L173.2,291.5 L187.4,291.5 Z"/>
</g>

<!-- TSHR left -->
<g transform="translate(95.2,146.3) rotate(16)" filter="url(#sh)">
  <rect x="-36" y="-17.2" width="72" height="34.4" rx="18" ry="14" fill="#A070B8" stroke="#7E5596" stroke-width="1"/>
  <text x="0" y="4.7" font-size="13" font-weight="bold" text-anchor="middle" fill="#111" stroke="#111" stroke-width="0.3">TSHR</text>
</g>
<!-- TSHR right -->
<g transform="translate(357.3,146.1) rotate(-16)" filter="url(#sh)">
  <rect x="-36" y="-17.2" width="72" height="34.4" rx="18" ry="14" fill="#A070B8" stroke="#7E5596" stroke-width="1"/>
  <text x="0" y="4.7" font-size="13" font-weight="bold" text-anchor="middle" fill="#111" stroke="#111" stroke-width="0.3">TSHR</text>
</g>

<!-- cAMP -->
<g filter="url(#sh)" fill="url(#boxg)" stroke="#5e5e5e" stroke-width="1.3">
  <rect x="190.2" y="164.2" width="71.8" height="35.4" rx="17.5" ry="13.5"/>
  <path d="M253.1,269.4 L253.1,270.0 L253.1,270.6 L253.0,271.1 L253.0,271.6 L252.9,272.1 L252.8,272.6 L252.7,273.1 L252.6,273.6 L252.4,274.1 L252.3,274.6 L252.1,275.0 L251.9,275.5 L251.7,276.0 L251.5,276.4 L251.3,276.8 L251.0,277.3 L250.7,277.7 L250.5,278.1 L250.2,278.5 L249.8,279.0 L249.5,279.4 L249.2,279.7 L248.8,280.1 L248.4,280.5 L248.1,280.9 L247.7,281.2 L247.3,281.6 L246.8,281.9 L246.4,282.3 L245.9,282.6 L245.5,282.9 L245.0,283.2 L244.5,283.5 L244.0,283.8 L243.5,284.1 L243.0,284.3 L242.4,284.6 L241.9,284.9 L241.3,285.1 L240.7,285.3 L240.2,285.5 L239.6,285.7 L239.0,285.9 L238.4,286.1 L237.7,286.3 L237.1,286.5 L236.5,286.6 L235.8,286.8 L235.2,286.9 L234.5,287.0 L233.8,287.1 L233.1,287.2 L232.4,287.3 L231.7,287.4 L231.0,287.5 L230.3,287.5 L229.5,287.5 L228.8,287.6 L228.0,287.6 L227.1,287.6 L226.2,287.6 L225.4,287.6 L224.7,287.5 L223.9,287.5 L223.2,287.5 L222.5,287.4 L221.8,287.3 L221.1,287.2 L220.4,287.1 L219.7,287.0 L219.0,286.9 L218.4,286.8 L217.7,286.6 L217.1,286.5 L216.5,286.3 L215.8,286.1 L215.2,285.9 L214.6,285.7 L214.0,285.5 L213.5,285.3 L212.9,285.1 L212.3,284.9 L211.8,284.6 L211.2,284.3 L210.7,284.1 L210.2,283.8 L209.7,283.5 L209.2,283.2 L208.7,282.9 L208.3,282.6 L207.8,282.3 L207.4,281.9 L206.9,281.6 L206.5,281.2 L206.1,280.9 L205.8,280.5 L205.4,280.1 L205.0,279.7 L204.7,279.4 L204.4,279.0 L204.0,278.5 L203.7,278.1 L203.5,277.7 L203.2,277.3 L202.9,276.8 L202.7,276.4 L202.5,276.0 L202.3,275.5 L202.1,275.0 L201.9,274.6 L201.8,274.1 L201.6,273.6 L201.5,273.1 L201.4,272.6 L201.3,272.1 L201.2,271.6 L201.2,271.1 L201.1,270.6 L201.1,270.0 L201.1,269.4 L201.1,268.8 L201.1,268.2 L201.2,267.7 L201.2,267.2 L201.3,266.7 L201.4,266.2 L201.5,265.7 L201.6,265.2 L201.8,264.7 L201.9,264.2 L202.1,263.8 L202.3,263.3 L202.5,262.8 L202.7,262.4 L202.9,262.0 L203.2,261.5 L203.5,261.1 L203.7,260.7 L204.0,260.3 L204.4,259.8 L204.7,259.4 L205.0,259.1 L205.4,258.7 L205.8,258.3 L206.1,257.9 L206.5,257.6 L206.9,257.2 L207.4,256.9 L207.8,256.5 L208.3,256.2 L208.7,255.9 L209.2,255.6 L209.7,255.3 L210.2,255.0 L210.7,254.7 L211.2,254.5 L211.8,254.2 L212.3,253.9 L212.9,253.7 L213.5,253.5 L214.0,253.3 L214.6,253.1 L215.2,252.9 L215.8,252.7 L216.5,252.5 L217.1,252.3 L217.7,252.2 L218.4,252.0 L219.0,251.9 L219.7,251.8 L220.4,251.7 L221.1,251.6 L221.8,251.5 L222.5,251.4 L223.2,251.3 L223.9,251.3 L224.7,251.3 L225.4,251.2 L226.2,251.2 L227.1,251.2 L228.0,251.2 L228.8,251.2 L229.5,251.3 L230.3,251.3 L231.0,251.3 L231.7,251.4 L232.4,251.5 L233.1,251.6 L233.8,251.7 L234.5,251.8 L235.2,251.9 L235.8,252.0 L236.5,252.2 L237.1,252.3 L237.7,252.5 L238.4,252.7 L239.0,252.9 L239.6,253.1 L240.2,253.3 L240.7,253.5 L241.3,253.7 L241.9,253.9 L242.4,254.2 L243.0,254.5 L243.5,254.7 L244.0,255.0 L244.5,255.3 L245.0,255.6 L245.5,255.9 L245.9,256.2 L246.4,256.5 L246.8,256.9 L247.3,257.2 L247.7,257.6 L248.1,257.9 L248.4,258.3 L248.8,258.7 L249.2,259.1 L249.5,259.4 L249.8,259.8 L250.2,260.3 L250.5,260.7 L250.7,261.1 L251.0,261.5 L251.3,262.0 L251.5,262.4 L251.7,262.8 L251.9,263.3 L252.1,263.8 L252.3,264.2 L252.4,264.7 L252.6,265.2 L252.7,265.7 L252.8,266.2 L252.9,266.7 L253.0,267.2 L253.0,267.7 L253.1,268.2 L253.1,268.8 Z"/>
  <rect x="155.6" y="305.2" width="71.8" height="35.2" rx="18" ry="13.5"/>
  <rect x="228" y="305.2" width="72.6" height="35.2" rx="18" ry="13.5"/>
</g>
<text x="225.7" y="187" filter="url(#noop)" font-size="12.7" font-weight="bold" text-anchor="middle" fill="#111" stroke="#111" stroke-width="0.3">cAMP</text>
<text x="226.7" y="274.6" filter="url(#noop)" font-size="12" text-anchor="middle" fill="#222">CREB</text>
<text x="190.7" y="327.5" filter="url(#noop)" font-size="12" text-anchor="middle" fill="#222">CRE</text>
<text x="239.3" y="327.5" filter="url(#noop)" font-size="12" textLength="50.5" fill="#222"><tspan font-style="italic">luc</tspan> exon</text>
<text x="133.8" y="368.5" filter="url(#noop)" font-size="12.4" fill="#222">mRNA</text>
<text x="282.3" y="368.5" filter="url(#noop)" font-size="12.4" fill="#222">mRNA</text>

<!-- stars -->
<g fill="#FFF38A" stroke="#FFF38A" stroke-width="5" filter="url(#blur3)" opacity="0.5">
  <use href="#star" transform="translate(101.5,366)"/>
  <use href="#star" transform="translate(131.9,382.4) scale(0.405)"/>
  <use href="#star" transform="translate(64.8,389.4) scale(0.424)"/>
  <use href="#star" transform="translate(88.1,421.2) scale(1.09)"/>
  <use href="#star" transform="translate(132.7,438.8) scale(0.765)"/>
</g>
<g fill="#F6E824" stroke="#5f560e" stroke-width="1.15" stroke-linejoin="miter">
  <use href="#star" transform="translate(101.5,366)"/>
  <use href="#star" transform="translate(131.9,382.4) scale(0.405)"/>
  <use href="#star" transform="translate(64.8,389.4) scale(0.424)"/>
  <use href="#star" transform="translate(88.1,421.2) scale(1.09)"/>
  <use href="#star" transform="translate(132.7,438.8) scale(0.765)"/>
</g>
<text x="76.6" y="474.7" font-size="12.2" font-weight="bold" fill="#000" filter="url(#lsh)" textLength="59" lengthAdjust="spacingAndGlyphs">Luciferase</text>

<!-- legend -->
<rect x="445" y="209" width="201" height="37.6" fill="#EAEAEA"/>
<rect x="445" y="260.8" width="92.8" height="36.2" fill="#EAEAEA"/>
<g stroke-linecap="round" fill="none">
  <path d="M450.5,219 L458,229.4 L464.9,219.2 M458,229.4 L458,237.6" stroke="#6B9C2B" stroke-width="4.9"/>
  <path d="M450.5,219 L458,229.4 L464.9,219.2 M458,229.4 L458,237.6" stroke="#8FC840" stroke-width="3.1"/>
</g>
<text x="475.5" y="232" filter="url(#noop)" font-size="10.2" fill="#222" textLength="159.5" lengthAdjust="spacingAndGlyphs">TSHR Stimulating Autoantibody (TSAb)</text>
<use href="#star" transform="translate(458.4,279.4) scale(0.429)" fill="#F6E824" stroke="#7F7212" stroke-width="0.9"/>
<text x="480" y="282.5" filter="url(#noop)" font-size="10.2" fill="#222" textLength="41" lengthAdjust="spacingAndGlyphs">Luciferase</text>

<!-- title -->
<text x="177.4" y="49.7" font-size="36.4" font-weight="bold" fill="#000" filter="url(#tish)" textLength="488" lengthAdjust="spacingAndGlyphs">TSAB BIOASSAY PRINCIPLE</text>

<!-- citations -->
<g font-size="9.7" fill="#1a1a1a" font-style="italic" filter="url(#csh)">
  <text id="c1" x="487.2" y="112.1" word-spacing="0.33">JCEM 2010, Clin Exp Immunol 2010, Thyroid</text>
  <text id="c2" x="484.6" y="123.7" word-spacing="0.44">2010, Thyroid 2011, Ophthalmology 2011, Am</text>
  <text id="c3" x="485.9" y="135.4" word-spacing="0.19">J Pathol 2013, Clin Exp Immunol 2013, JCEM</text>
  <text id="c4" x="485.9" y="147.6" word-spacing="0.53"><tspan font-style="normal">2014, </tspan>Thyroid <tspan font-style="normal">2015, </tspan>JEI <tspan font-style="normal">2015, </tspan>IJE <tspan font-style="normal">2015, </tspan>ETJ</text>
  <text id="c5" x="488.2" y="159" word-spacing="0.55"><tspan font-style="normal">2015, </tspan>Thyroid <tspan font-style="normal">2016, </tspan>JEI <tspan font-style="normal">2016, </tspan>JCEM <tspan font-style="normal">2016 ;</tspan></text>
  <text id="c6" x="584.4" y="169.9" text-anchor="middle"><tspan font-weight="bold">New Engl J Med</tspan><tspan font-style="normal"> 2017</tspan></text>
</g>

<!-- formula -->
<g font-size="20" fill="#000" filter="url(#fsh)">
  <text x="319.6" y="431.3" font-weight="bold" textLength="342" lengthAdjust="spacingAndGlyphs">Specimen-to-reference ratio (SRR%)</text>
  <text x="665.6" y="431.3">=</text>
  <text x="324.5" y="467.2" font-weight="bold" textLength="92.6" lengthAdjust="spacingAndGlyphs">specimen</text>
  <text x="422" y="467.2" textLength="273.5" lengthAdjust="spacingAndGlyphs" xml:space="preserve">relative light units (RLU)  X 100</text>
  <rect x="319.2" y="470.5" width="377.2" height="1.6"/>
  <text x="429.2" y="491.6" font-weight="bold" textLength="179" lengthAdjust="spacingAndGlyphs">reference standard</text>
  <text x="613.6" y="491.6" textLength="38.8" lengthAdjust="spacingAndGlyphs">RLU</text>
</g>
</svg>
</body></html>
